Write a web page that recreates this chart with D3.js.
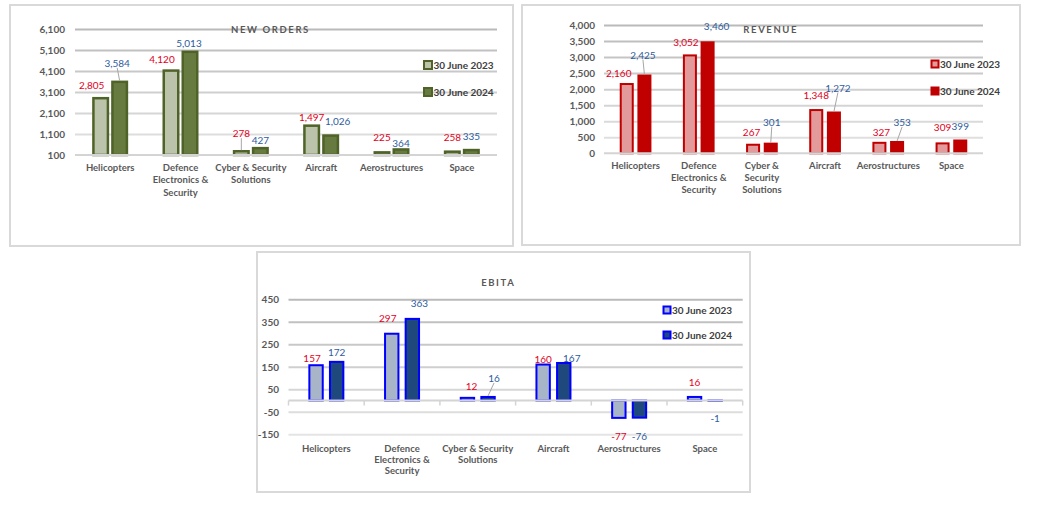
<!DOCTYPE html>
<html>
<head>
<meta charset="utf-8">
<script src="https://cdn.jsdelivr.net/npm/d3@7"></script>
<style>
  html, body { margin: 0; padding: 0; background: #fff; }
  svg { display: block; font-family: Lato, "Open Sans", sans-serif; }
</style>
</head>
<body>
<svg id="chart" width="1045" height="511"></svg>
<script>
// ---------------------------------------------------------------------------
// Data
// ---------------------------------------------------------------------------
const categories = ['Helicopters', 'Defence Electronics & Security', 'Cyber & Security Solutions',
  'Aircraft', 'Aerostructures', 'Space'];
const series = ['30 June 2023', '30 June 2024'];

const newOrders2023 = [2805, 4120, 278, 1497, 225, 258];
const newOrders2024 = [3584, 5013, 427, 1026, 364, 335];
const revenue2023   = [2160, 3052, 267, 1348, 327, 309];
const revenue2024   = [2425, 3460, 301, 1272, 353, 399];
const ebita2023     = [157, 297, 12, 160, -77, 16];
const ebita2024     = [172, 363, 16, 167, -76, -1];

const newOrdersTicks = [100, 1100, 2100, 3100, 4100, 5100, 6100];
const revenueTicks   = [0, 500, 1000, 1500, 2000, 2500, 3000, 3500, 4000];
const ebitaTicks     = [-150, -50, 50, 150, 250, 350, 450];

// category labels as wrapped in the source charts
const catLinesWide = [['Helicopters'], ['Defence', 'Electronics &', 'Security'],
  ['Cyber & Security', 'Solutions'], ['Aircraft'], ['Aerostructures'], ['Space']];
const catLinesNarrow = [['Helicopters'], ['Defence', 'Electronics &', 'Security'],
  ['Cyber &', 'Security', 'Solutions'], ['Aircraft'], ['Aerostructures'], ['Space']];

const fmt = v => v.toLocaleString('en-US');
const AXIS_GREY = '#595959';
const LABEL_COLORS = ['#e3001b', '#2e5c9e'];

// ---------------------------------------------------------------------------
// One grouped bar chart panel
// ---------------------------------------------------------------------------
function drawChart(cfg) {
  const g = d3.select('#chart').append('g');

  g.append('rect')
    .attr('x', cfg.box[0]).attr('y', cfg.box[1])
    .attr('width', cfg.box[2] - cfg.box[0]).attr('height', cfg.box[3] - cfg.box[1])
    .attr('fill', '#fff').attr('stroke', '#d9d9d9').attr('stroke-width', 2);

  const x0 = d3.scaleBand().domain(categories).range(cfg.xRange);
  const bw = x0.bandwidth();
  const x1 = d3.scaleBand().domain(series)
    .range([(bw - cfg.groupW) / 2, (bw + cfg.groupW) / 2])
    .paddingInner(cfg.barPad);
  const y = d3.scaleLinear().domain(cfg.yDomain).range(cfg.yRange);
  const base = Math.max(cfg.yDomain[0], 0);

  // gridlines, darker towards the top
  const gridColor = d3.scaleLinear()
    .domain([cfg.yDomain[0], cfg.yDomain[1]]).range(['#e4e4e4', '#bababa']);
  const yAx = g.append('g')
    .attr('transform', `translate(${cfg.xRange[0]},0)`)
    .call(d3.axisLeft(y).tickValues(cfg.ticks)
      .tickSize(-(cfg.xRange[1] - cfg.xRange[0]))
      .tickPadding(cfg.tickPad).tickFormat(fmt));
  yAx.select('.domain').remove();
  yAx.selectAll('.tick line')
    .attr('stroke', d => gridColor(d)).attr('stroke-width', 2)
    .attr('opacity', d => d === base ? 0 : 1);
  yAx.selectAll('.tick text')
    .attr('fill', AXIS_GREY).attr('font-size', 10).attr('font-weight', 700)
    .attr('font-family', 'Lato, sans-serif');

  // bars
  const values = cfg.values;
  series.forEach((s, si) => {
    g.append('g').selectAll('rect')
      .data(categories)
      .join('rect')
      .attr('x', c => x0(c) + x1(s))
      .attr('width', x1.bandwidth())
      .attr('y', (c, ci) => Math.min(y(values[si][ci]), y(base)))
      .attr('height', (c, ci) => Math.abs(y(values[si][ci]) - y(base)))
      .attr('fill', cfg.fills[si])
      .attr('stroke', cfg.strokes[si])
      .attr('stroke-width', cfg.strokeW);
  });

  // baseline drawn over the bar feet
  g.append('line')
    .attr('x1', cfg.xRange[0]).attr('x2', cfg.xRange[1])
    .attr('y1', y(base)).attr('y2', y(base))
    .attr('stroke', '#d4d4d4').attr('stroke-width', 2);
  if (cfg.zeroTicks) {
    const edges = categories.map(c => x0(c)).concat([cfg.xRange[1]]);
    g.append('g').selectAll('line').data(edges).join('line')
      .attr('x1', d => d).attr('x2', d => d)
      .attr('y1', y(base)).attr('y2', y(base) + 5)
      .attr('stroke', '#d4d4d4').attr('stroke-width', 1.5);
  }

  // data labels (with leader lines where the label was dragged away)
  series.forEach((s, si) => {
    categories.forEach((c, ci) => {
      const v = values[si][ci];
      const off = cfg.labelShift[si][ci];
      const cx = x0(c) + x1(s) + x1.bandwidth() / 2;
      const px = cx + off[0];
      const py = y(v) + off[1];
      if (off[2]) {
        g.append('line')
          .attr('x1', px).attr('y1', py + 5)
          .attr('x2', cx).attr('y2', y(v) - 1)
          .attr('stroke', '#a6a6a6').attr('stroke-width', 1);
      }
      g.append('text')
        .attr('x', px).attr('y', py)
        .attr('text-anchor', 'middle').attr('dominant-baseline', 'central')
        .attr('font-size', 10).attr('fill', LABEL_COLORS[si])
        .text(fmt(v));
    });
  });

  // category labels
  categories.forEach((c, ci) => {
    const t = g.append('text')
      .attr('text-anchor', 'middle').attr('font-size', 9.5).attr('font-weight', 700)
      .attr('fill', AXIS_GREY);
    cfg.catLines[ci].forEach((line, li) => {
      t.append('tspan')
        .attr('x', x0(c) + bw / 2)
        .attr('y', cfg.catY + li * cfg.catLH)
        .attr('dominant-baseline', 'central')
        .text(line);
    });
  });

  // title
  g.append('text')
    .attr('x', cfg.title[1]).attr('y', cfg.title[2])
    .attr('text-anchor', 'middle').attr('dominant-baseline', 'central')
    .attr('font-size', 9.5).attr('font-weight', 700).attr('letter-spacing', 1.6)
    .attr('fill', AXIS_GREY)
    .text(cfg.title[0]);

  // legend
  series.forEach((s, si) => {
    const ly = cfg.legend.ys[si];
    g.append('rect')
      .attr('x', cfg.legend.x).attr('y', ly - cfg.legend.size / 2)
      .attr('width', cfg.legend.size).attr('height', cfg.legend.size)
      .attr('fill', cfg.fills[si]).attr('stroke', cfg.strokes[si]).attr('stroke-width', 2);
    g.append('text')
      .attr('x', cfg.legend.x + cfg.legend.size + 1.5).attr('y', ly)
      .attr('dominant-baseline', 'central')
      .attr('font-size', 10).attr('font-weight', 700).attr('fill', '#404040')
      .text(s);
  });
}

// ---------------------------------------------------------------------------
// Panels
// ---------------------------------------------------------------------------
drawChart({
  box: [10, 5, 513, 246],
  title: ['NEW ORDERS', 270.5, 29],
  values: [newOrders2023, newOrders2024],
  ticks: newOrdersTicks,
  yDomain: [100, 6100], yRange: [155, 29],
  xRange: [75, 497], tickPad: 10,
  groupW: 33.5, barPad: 0.237,
  fills: ['#bcc3ab', '#677b40'], strokes: ['#4f6228', '#4f6228'], strokeW: 2.5,
  catLines: catLinesWide, catY: 167.7, catLH: 12.2,
  legend: { x: 424, size: 8, ys: [65, 92] },
  labelShift: [
    [[-9, -13], [-9, -12], [0, -18, 1], [0, -9], [0, -15], [0, -15]],
    [[-2.5, -19, 1], [-1, -9], [0, -8], [7, -15], [0, -6], [0, -14]]
  ]
});

drawChart({
  box: [522, 5, 1020, 245],
  title: ['REVENUE', 770.7, 29],
  values: [revenue2023, revenue2024],
  ticks: revenueTicks,
  yDomain: [0, 4000], yRange: [153.3, 25],
  xRange: [604, 983], tickPad: 9,
  groupW: 29.7, barPad: 0.32,
  fills: ['#e39a9a', '#c00000'], strokes: ['#c00000', '#c00000'], strokeW: 2,
  catLines: catLinesNarrow, catY: 165.7, catLH: 12.1,
  legend: { x: 931.5, size: 7, ys: [64, 91] },
  labelShift: [
    [[-8, -11], [-4, -13], [-1.5, -13], [0, -15], [2, -11], [0, -16]],
    [[-1.5, -21, 1], [9, -16], [1, -22, 1], [4, -25, 1], [5, -20, 1], [0, -15]]
  ]
});

drawChart({
  box: [257, 252, 750, 492],
  title: ['EBITA', 498.3, 282.7],
  values: [ebita2023, ebita2024],
  ticks: ebitaTicks,
  yDomain: [-150, 450], yRange: [434.3, 299.3],
  xRange: [288.5, 742.7], tickPad: 9.5,
  groupW: 34, barPad: 0.35,
  fills: ['#a8b4c8', '#1f497d'], strokes: ['#0000ff', '#0000ff'], strokeW: 2,
  catLines: catLinesWide, catY: 448, catLH: 11.4,
  zeroTicks: true,
  legend: { x: 663.5, size: 7, ys: [310, 335] },
  labelShift: [
    [[-4, -7.5], [-4, -15.5], [4, -12], [0, -6], [0, 18], [0, -15]],
    [[0, -10], [7, -15.5], [6, -19, 1], [8, -5], [0, 18], [0, 17.5]]
  ]
});
</script>
</body>
</html>
